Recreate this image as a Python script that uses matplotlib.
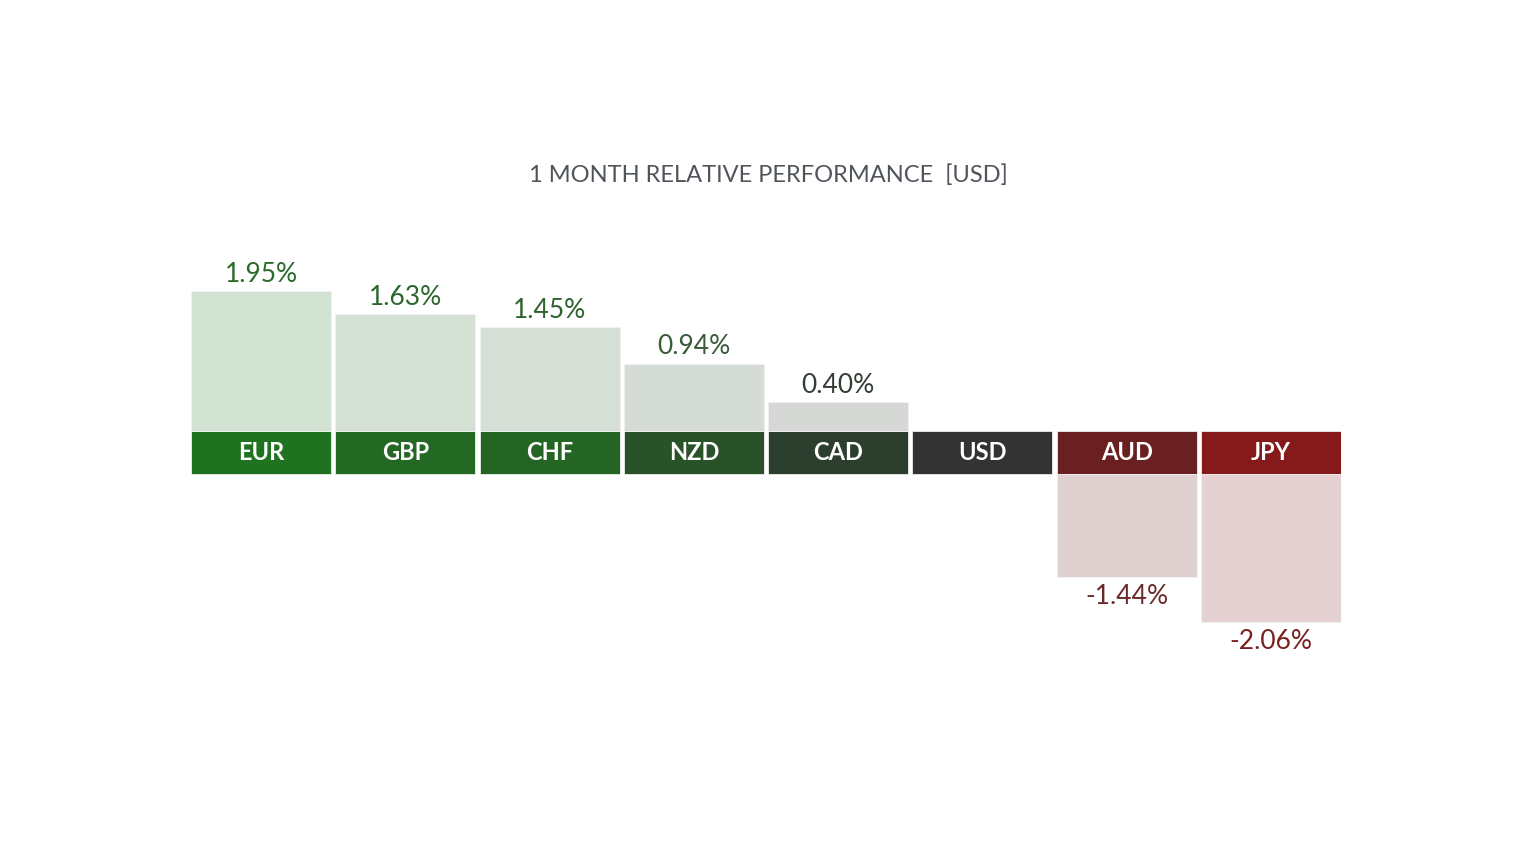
import matplotlib.pyplot as plt

# --- data ---
currencies = ['EUR', 'GBP', 'CHF', 'NZD', 'CAD', 'USD', 'AUD', 'JPY']
changes = [1.95, 1.63, 1.45, 0.94, 0.40, 0.0, -1.44, -2.06]
band_colors = ['#1f7320', '#236823', '#246524', '#2a5228', '#2c3e2e', '#333333', '#6a2020', '#861a1a']
fill_colors = ['#d3e3d3', '#d4e0d4', '#d5dfd5', '#d5dcd5', '#d6d8d6', '#d8d8d8', '#e0d1d1', '#e5d1d1']
text_colors = ['#2a6a2a', '#2d662d', '#2e622e', '#3a5a3a', '#333d33', '#333333', '#6b2a2a', '#7a2020']

plt.rcParams['font.family'] = ['Lato', 'DejaVu Sans']

W, H = 1535, 858
fig = plt.figure(figsize=(W / 100, H / 100), dpi=100)

# pixel geometry of the reference
x0_px, x1_px = 191, 1341
top_px, bot_px = 200, 720
zero_px = 431           # top of the label band
px_per_unit = 71.8      # pixels per percent
band_h = 43 / px_per_unit

w = 0.972
n = len(currencies)
ax = fig.add_axes([x0_px / W, 1 - bot_px / H, (x1_px - x0_px) / W, (bot_px - top_px) / H])
ax.set_xlim(-w / 2, n - 1 + w / 2)
ax.set_ylim(-(bot_px - zero_px) / px_per_unit, (zero_px - top_px) / px_per_unit)
ax.axis('off')

for i, (cur, v) in enumerate(zip(currencies, changes)):
    # currency label band
    ax.bar(i, band_h, bottom=-band_h, width=w, color=band_colors[i],
           edgecolor='#eeeeee', linewidth=0.6)
    ax.text(i, -band_h / 2, cur, ha='center', va='center', color='white',
            fontsize=17, fontweight='bold')
    if v > 0:
        ax.bar(i, v, bottom=0, width=w, color=fill_colors[i],
               edgecolor='#f2f2f2', linewidth=0.6)
        ax.annotate(f'{v:.2f}%', (i, v), xytext=(0, 3), textcoords='offset points',
                    ha='center', va='bottom', fontsize=19, color=text_colors[i])
    elif v < 0:
        ax.bar(i, v, bottom=-band_h, width=w, color=fill_colors[i],
               edgecolor='#f2f2f2', linewidth=0.6)
        ax.annotate(f'{v:.2f}%', (i, v - band_h), xytext=(0, -5), textcoords='offset points',
                    ha='center', va='top', fontsize=19, color=text_colors[i])

fig.text(768 / W, 1 - 175 / H, '1 MONTH RELATIVE PERFORMANCE  [USD]', ha='center', va='center',
         fontsize=17, color='#50555b')

fig.savefig('out.png', dpi=100, facecolor='white')
